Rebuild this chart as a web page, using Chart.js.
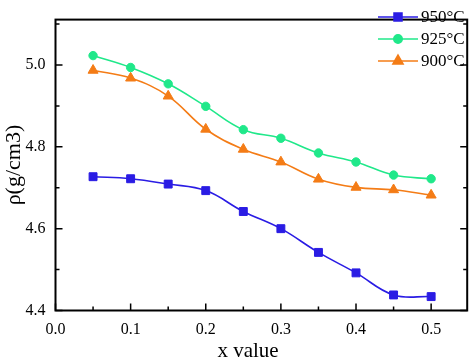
<!DOCTYPE html>
<html lang="en">
<head>
    <meta charset="UTF-8">
    <title>Density vs x value</title>
    <script src="https://cdn.jsdelivr.net/npm/chart.js@4.4.0/dist/chart.umd.min.js"></script>
    <style>
        html, body { margin: 0; padding: 0; background: #ffffff; }
    </style>
</head>
<body>
    <canvas id="chart1" width="474" height="359"></canvas>

    <script>
        var xValues = [0.05, 0.10, 0.15, 0.20, 0.25, 0.30, 0.35, 0.40, 0.45, 0.50];
        var rho950 = [4.727, 4.722, 4.709, 4.693, 4.642, 4.600, 4.542, 4.492, 4.438, 4.434];
        var rho925 = [5.023, 4.994, 4.954, 4.899, 4.842, 4.821, 4.785, 4.763, 4.731, 4.722];
        var rho900 = [4.987, 4.968, 4.924, 4.843, 4.794, 4.763, 4.721, 4.701, 4.695, 4.682];

        var xTicks = [0.0, 0.1, 0.2, 0.3, 0.4, 0.5];
        var xMinorTicks = [0.05, 0.15, 0.25, 0.35, 0.45];
        var yTicks = [4.4, 4.6, 4.8, 5.0];
        var yMinorTicks = [4.5, 4.7, 4.9, 5.1];

        var seriesLabels = ["950\u00B0C", "925\u00B0C", "900\u00B0C"];

        var blue = "rgb(42, 28, 228)";
        var green = "rgb(32, 232, 138)";
        var orange = "rgb(244, 124, 22)";

        var serif = "'Liberation Serif', 'Times New Roman', serif";

        function toPoints(ys) {
            return xValues.map(function (x, i) { return { x: x, y: ys[i] }; });
        }

        // frame + inward ticks like the original plot
        var framePlugin = {
            id: 'frame',
            afterDraw: function (chart) {
                var ctx = chart.ctx;
                var a = chart.chartArea;
                var xs = chart.scales.x;
                var ys = chart.scales.y;
                ctx.save();
                ctx.strokeStyle = '#000';
                ctx.lineWidth = 2;
                ctx.strokeRect(a.left, a.top, a.right - a.left, a.bottom - a.top);
                ctx.lineWidth = 1.5;
                ctx.beginPath();
                xTicks.forEach(function (v) {
                    var px = xs.getPixelForValue(v);
                    ctx.moveTo(px, a.bottom); ctx.lineTo(px, a.bottom - 7);
                });
                xMinorTicks.forEach(function (v) {
                    var px = xs.getPixelForValue(v);
                    ctx.moveTo(px, a.bottom); ctx.lineTo(px, a.bottom - 4);
                });
                yTicks.forEach(function (v) {
                    var py = ys.getPixelForValue(v);
                    ctx.moveTo(a.left, py); ctx.lineTo(a.left + 7, py);
                    ctx.moveTo(a.right, py); ctx.lineTo(a.right - 7, py);
                });
                yMinorTicks.forEach(function (v) {
                    var py = ys.getPixelForValue(v);
                    ctx.moveTo(a.left, py); ctx.lineTo(a.left + 4, py);
                    ctx.moveTo(a.right, py); ctx.lineTo(a.right - 4, py);
                });
                ctx.stroke();

                // axis titles
                ctx.fillStyle = '#000';
                ctx.font = "21px " + serif;
                ctx.textAlign = 'center';
                ctx.textBaseline = 'alphabetic';
                ctx.fillText("x value", 248, 357);
                ctx.translate(20, (a.top + a.bottom) / 2);
                ctx.rotate(-Math.PI / 2);
                ctx.font = "22px " + serif;
                ctx.fillText("\u03C1(g/cm3)", 0, 0);
                ctx.restore();
            }
        };

        // legend with line + marker
        var legendPlugin = {
            id: 'lineLegend',
            afterDraw: function (chart) {
                var ctx = chart.ctx;
                var rows = [17, 39, 61];
                ctx.save();
                chart.data.datasets.forEach(function (ds, i) {
                    var y = rows[i];
                    ctx.strokeStyle = ds.borderColor;
                    ctx.fillStyle = ds.pointBackgroundColor;
                    ctx.lineWidth = 1.6;
                    ctx.beginPath();
                    ctx.moveTo(378, y); ctx.lineTo(418, y);
                    ctx.stroke();
                    Chart.helpers.drawPoint(ctx, {
                        pointStyle: ds.pointStyle,
                        radius: ds.pointRadius,
                        rotation: 0,
                        borderWidth: 1
                    }, 398, y);
                    ctx.fillStyle = '#000';
                    ctx.font = "17px " + serif;
                    ctx.textAlign = 'left';
                    ctx.textBaseline = 'middle';
                    ctx.fillText(ds.label, 421, y + 1);
                });
                ctx.restore();
            }
        };

        function makeDataset(label, ys, color, style, radius) {
            return {
                label: label,
                data: toPoints(ys),
                borderColor: color,
                backgroundColor: color,
                pointBackgroundColor: color,
                pointBorderColor: color,
                pointStyle: style,
                pointRadius: radius,
                pointBorderWidth: 1,
                borderWidth: 1.6,
                tension: 0.4,
                fill: false
            };
        }

        var context1 = document.getElementById('chart1').getContext('2d');
        window.chart1 = new Chart(context1, {
            type: 'line',
            data: {
                datasets: [
                    makeDataset(seriesLabels[0], rho950, blue, 'rect', 5.6),
                    makeDataset(seriesLabels[1], rho925, green, 'circle', 4.2),
                    makeDataset(seriesLabels[2], rho900, orange, 'triangle', 5.8)
                ]
            },
            options: {
                responsive: false,
                animation: false,
                layout: { padding: { top: 2, right: 3, left: 0, bottom: 0 } },
                plugins: {
                    legend: { display: false },
                    tooltip: { enabled: false }
                },
                scales: {
                    x: {
                        type: 'linear',
                        min: 0,
                        max: 0.548,
                        grid: { display: false, drawTicks: false },
                        border: { display: false },
                        afterBuildTicks: function (s) { s.ticks = xTicks.map(function (v) { return { value: v }; }); },
                        afterFit: function (s) { s.height = 48.5; },
                        ticks: {
                            color: '#000',
                            font: { family: serif, size: 16 },
                            padding: 10,
                            maxRotation: 0,
                            callback: function (v) { return Number(v).toFixed(1); }
                        }
                    },
                    y: {
                        min: 4.4,
                        max: 5.111,
                        grid: { display: false, drawTicks: false },
                        border: { display: false },
                        afterBuildTicks: function (s) { s.ticks = yTicks.map(function (v) { return { value: v }; }); },
                        afterFit: function (s) { s.width = 55.5; },
                        ticks: {
                            color: '#000',
                            font: { family: serif, size: 16 },
                            padding: 10,
                            callback: function (v) { return Number(v).toFixed(1); }
                        }
                    }
                }
            },
            plugins: [framePlugin, legendPlugin]
        });
    </script>
</body>
</html>
